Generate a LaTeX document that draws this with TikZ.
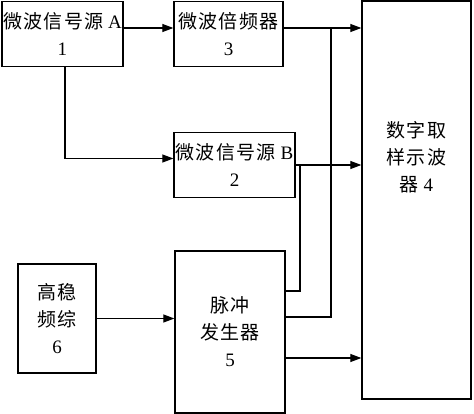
\documentclass[tikz,border=0pt]{standalone}
\usepackage{fontspec}
\setmainfont{Liberation Serif}
\newfontfamily\cjk{Noto Sans CJK SC}[LetterSpace=7]
\newcommand{\zh}[1]{{\cjk #1}}
\usetikzlibrary{arrows.meta}
\tikzstyle{block} = [rectangle, 
draw=black, 
line width=1.3pt, 
inner sep=0pt, 
align=center, 
font=\fontsize{19pt}{27pt}\selectfont]
\tikzstyle{arrow} = [line width=1.1pt,->,>={Triangle[length=11pt,width=8pt]}]
\tikzstyle{wire} = [line width=1.1pt]

\begin{document}
\begin{tikzpicture}[x=1pt, y=-1pt]
		\useasboundingbox (0,0) rectangle (474,414);
		\node (srcA) [block, minimum width=121pt, minimum height=65pt] at (62.5,34) {\zh{微波信号源} A\\1};
		\node (mult) [block, right of=srcA, node distance=166pt, minimum width=109pt, minimum height=65pt] {\zh{微波倍频器}\\3};
		\node (srcB) [block, below of=mult, node distance=131pt, xshift=6pt, minimum width=121pt, minimum height=65pt] {\zh{微波信号源} B\\2};
		\node (pulse) [block, below of=srcB, node distance=167pt, xshift=-4.5pt, minimum width=110pt, minimum height=162pt] {\zh{脉冲}\\\zh{发生器}\\5};
		\node (synth) [block, left of=pulse, node distance=173pt, yshift=13.5pt, minimum width=78pt, minimum height=109pt] {\zh{高稳}\\\zh{频综}\\6};
		\node (osc) [block, right of=mult, node distance=188pt, yshift=-166pt, minimum width=109pt, minimum height=398pt,
			label={[align=center, font=\fontsize{19pt}{27pt}\selectfont, yshift=43pt]center:{\zh{数字取}\\\zh{样示波}\\\zh{器} 4}}] {};
	
		\coordinate (srcAout) at ([yshift=6pt]srcA.east);
		\coordinate (multout) at ([yshift=6pt]mult.east);
		\coordinate (pulseout) at ([yshift=-26pt]pulse.east);
		\draw [arrow] (srcAout) -- (srcAout -| mult.west);
		\draw [arrow] ([xshift=2.5pt]srcA.south) |- ([yshift=6.5pt]srcB.west);
		\draw [arrow] (multout) -- (multout -| osc.west);
		\draw [arrow] (srcB.east) -- (srcB.east -| osc.west);
		\draw [arrow] (pulseout) -- (pulseout -| osc.west);
		\draw [arrow] (synth.east) -- (synth.east -| pulse.west);
	
		% taps down to the pulse generator
		\coordinate (tap3) at (331,28);
		\coordinate (tap2) at (300,165);
		\draw [wire] (tap3) |- ([yshift=15pt]pulse.east);
		\draw [wire] (tap2) |- ([yshift=41pt]pulse.east);
	\end{tikzpicture}
\end{document}
